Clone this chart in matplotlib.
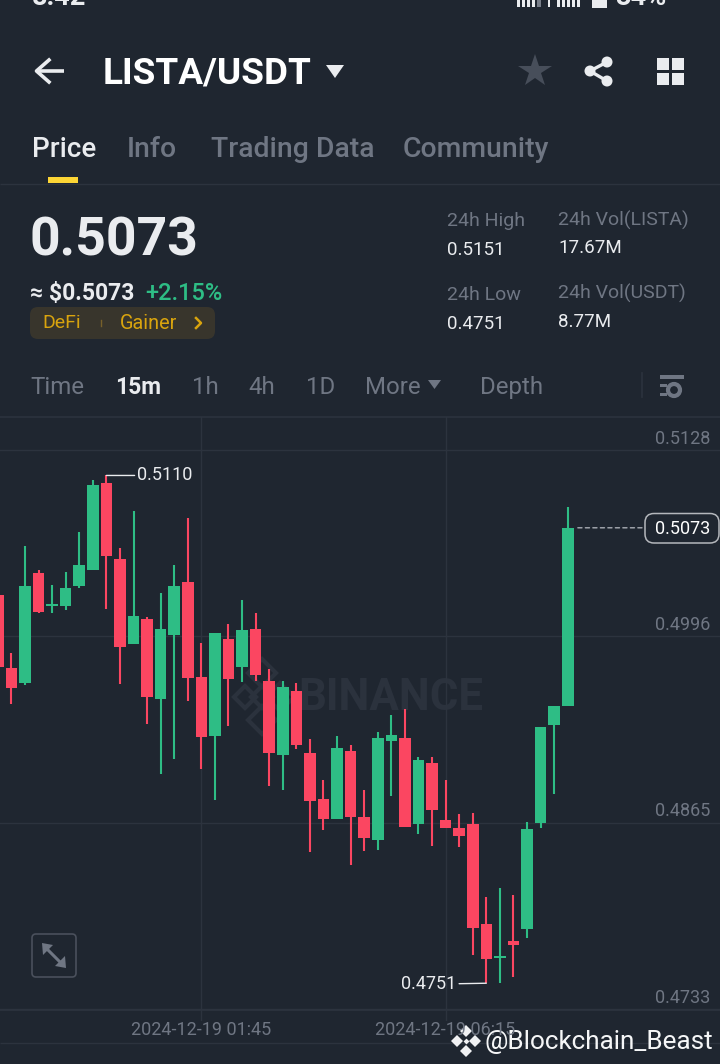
#!/usr/bin/env python3
# LISTA/USDT 15m candles, phone screenshot look.

import matplotlib
matplotlib.use("Agg")
import matplotlib.pyplot as plt
from matplotlib.patches import FancyBboxPatch, Rectangle, Polygon, Circle
import numpy as np

BG = "#1f2630"
GRID = "#2c333e"
GREEN = "#2ebd85"
RED = "#fb4661"
WHITE = "#eaecef"
GRAY = "#6f7683"
GOLD = "#d9a40e"

plt.rcParams["font.family"] = ["Roboto", "DejaVu Sans"]

# ─── candle values ────────────────────────────────────────────────────────────

opens = [0.50257, 0.49737, 0.49635, 0.50408, 0.50179, 0.50179, 0.50318, 0.50429, 0.51049,
         0.50507, 0.49908, 0.50087, 0.49517, 0.49970, 0.50349, 0.49675, 0.49258, 0.49946,
         0.49746, 0.50017, 0.49645, 0.49126, 0.49576, 0.49136, 0.48813, 0.48673, 0.49154,
         0.48683, 0.48525, 0.49225, 0.49246, 0.48634, 0.49065, 0.48664, 0.48605, 0.48634,
         0.47931, 0.47691, 0.47811, 0.47893, 0.48643, 0.49336, 0.49468]
closes = [0.49748, 0.49597, 0.50318, 0.50137, 0.50189, 0.50306, 0.50467, 0.51030, 0.50531,
          0.49889, 0.50106, 0.49536, 0.50017, 0.50318, 0.49666, 0.49249, 0.49986, 0.49659,
          0.50007, 0.49689, 0.49136, 0.49604, 0.49196, 0.48796, 0.48673, 0.49175, 0.48685,
          0.48535, 0.49244, 0.49265, 0.48615, 0.49086, 0.48735, 0.48605, 0.48553, 0.47903,
          0.47683, 0.47705, 0.47782, 0.48603, 0.49324, 0.49468, 0.50730]
highs = [0.50304, 0.49845, 0.50599, 0.50429, 0.50328, 0.50417, 0.50698, 0.51070, 0.51100,
         0.50589, 0.50849, 0.50097, 0.50267, 0.50467, 0.50799, 0.49915, 0.49986, 0.50048,
         0.50219, 0.50125, 0.49734, 0.49645, 0.49635, 0.49235, 0.48945, 0.49256, 0.49194,
         0.48874, 0.49284, 0.49404, 0.49447, 0.49107, 0.49107, 0.48945, 0.48704, 0.48714,
         0.48122, 0.48181, 0.48132, 0.48652, 0.49324, 0.49468, 0.50879]
lows = [0.49477, 0.49486, 0.49616, 0.50130, 0.50130, 0.50149, 0.50306, 0.50429, 0.50158,
        0.49628, 0.49908, 0.49345, 0.48987, 0.49098, 0.49508, 0.49027, 0.48805, 0.49327,
        0.49638, 0.49649, 0.48907, 0.48876, 0.49168, 0.48436, 0.48596, 0.48673, 0.48344,
        0.48443, 0.48454, 0.48836, 0.48615, 0.48563, 0.48482, 0.48605, 0.48473, 0.47712,
        0.47510, 0.47512, 0.47552, 0.47832, 0.48605, 0.48846, 0.49468]

# grid levels are evenly spaced, the labels are rounded from them
price_ticks = [0.51280, 0.49962, 0.48645, 0.47327]
price_labels = ["0.5128", "0.4996", "0.4865", "0.4733"]
time_idx = [15, 33]
time_labels = ["2024-12-19 01:45", "2024-12-19 06:15"]
last_price = 0.5073
high_mark = (8, 0.5110, "0.5110")
low_mark = (36, 0.4751, "0.4751")

tabs = ["Price", "Info", "Trading Data", "Community"]
intervals = ["Time", "15m", "1h", "4h", "1D", "More", "Depth"]

# ─── page ─────────────────────────────────────────────────────────────────────

fig = plt.figure(figsize=(7.2, 10.64), dpi=100, facecolor=BG)
ui = fig.add_axes([0, 0, 1, 1], zorder=1)
ui.set_xlim(0, 720)
ui.set_ylim(1064, 0)
ui.axis("off")


def label(x, y, s, size=14, color=WHITE, weight="normal", ha="left", **kw):
    # roboto sits a bit high with va=center
    return ui.text(x, y + 1.5, s, fontsize=size, color=color, weight=weight, ha=ha, va="center", **kw)


def hline(y, x0=0, x1=720, color=GRID, lw=1.0):
    ui.plot([x0, x1], [y, y], color=color, lw=lw, solid_capstyle="butt")


# status bar, cut off by the top edge
label(32, -4, "8:42", 19.5, WHITE, "bold")
for x0, w in [(517, 3), (522, 3), (527, 3), (532, 3), (537, 4), (548, 2), (557, 3), (562, 3), (567, 3), (572, 3), (577, 3)]:
    ui.add_patch(Rectangle((x0, 0), w, 7, color=WHITE if x0 != 537 else "#777d88", lw=0))
ui.add_patch(Rectangle((592, 0), 15, 8, color=WHITE, lw=0))
label(615, -4, "34%", 19.5, WHITE, "bold")

# header
ui.plot([36, 64], [71, 71], color=WHITE, lw=2.6, solid_capstyle="butt")
ui.plot([49, 36.5, 49], [60, 71, 82], color=WHITE, lw=2.6)
label(103, 72, "LISTA/USDT", 26.6, "#ffffff", "bold")
ui.add_patch(Polygon([(326, 65), (344, 65), (335, 78)], closed=True, color=WHITE, lw=0))
ui.plot([535], [71], marker="*", ms=25, color="#474e5a", mew=0)
ui.plot([607, 590, 607], [62, 71, 81], color=WHITE, lw=2.4)
for cx, cy in [(607, 62), (590, 71), (607, 81)]:
    ui.add_patch(Circle((cx, cy), 5.5, color=WHITE, lw=0))
for x0 in (657, 672):
    for y0 in (58, 73):
        ui.add_patch(Rectangle((x0, y0), 11.5, 11.5, color=WHITE, lw=0))

# tabs
for x, s in zip([32, 127, 211, 403], tabs):
    label(x, 148, s, 20 if s == "Price" else 20.4, WHITE if s == "Price" else GRAY, "medium")
ui.add_patch(Rectangle((48, 177), 30, 6, color="#fcd535", lw=0))
hline(183.5)

# price block
label(30, 240, "0.5073", 38.5, WHITE, "bold")
label(30, 292, "≈ $0.5073", 16.5, WHITE, "bold")
label(145, 292, "+2.15%", 17, GREEN, "medium")
ui.add_patch(FancyBboxPatch((30, 307), 185, 32, boxstyle="round,pad=0,rounding_size=8",
                            fc="#38352c", ec="none", lw=0))
label(42, 322, "DeFi", 14, GOLD)
label(120, 322, "Gainer", 14.3, GOLD)
ui.plot([100.5, 100.5], [320, 326], color="#77602a", lw=1)
ui.plot([196, 201, 196], [318, 323, 328], color=GOLD, lw=1.8)

# 24h stats
label(447, 219.5, "24h High", 14, GRAY)
label(447, 248.5, "0.5151", 13.5, WHITE)
label(447, 293.5, "24h Low", 14, GRAY)
label(447, 322.5, "0.4751", 13.5, WHITE)
label(558, 218.5, "24h Vol(LISTA)", 14, GRAY)
label(558, 246.5, "17.67M", 13.5, WHITE)
label(558, 291.5, "24h Vol(USDT)", 14, GRAY)
label(558, 320.5, "8.77M", 13.5, WHITE)

# interval row
for x, s in zip([30, 115, 192, 248, 306, 365, 480], intervals):
    on = s == "15m"
    label(x, 386, s, 16.5 if on else 17.3, WHITE if on else GRAY, "bold" if on else "normal")
ui.add_patch(Polygon([(428, 380), (441, 380), (434.5, 389)], closed=True, color=GRAY, lw=0))
ui.plot([642, 642], [373, 397], color=GRID, lw=1.2)
ui.add_patch(Rectangle((660, 375), 24, 4, color=GRAY, lw=0))
ui.add_patch(Rectangle((660, 384), 7, 3, color=GRAY, lw=0))
ui.add_patch(Rectangle((660, 393), 7, 3, color=GRAY, lw=0))
ui.add_patch(Circle((674, 390), 6, fc=BG, ec=GRAY, lw=3))
hline(416.5, lw=1.2)

# chart frame lines
hline(1009.5, lw=1.3)
hline(1042.5, lw=1.0)

# watermark sits under the candles
for cx, cy, s in [(262, 673, 14), (245, 697, 11), (262, 697, 11), (262, 720, 14), (280, 697, 14)]:
    ui.plot([cx], [cy], marker="D", ms=s, mfc="none", mec="#2b323d", mew=3)
label(298, 696, "BINANCE", 31.5, "#2b323d", "bold")

# expand button
ui.add_patch(FancyBboxPatch((32, 934), 44, 43, boxstyle="round,pad=0,rounding_size=4",
                            fc="none", ec="#4a505c", lw=1.2))
ui.plot([46, 62], [948, 964], color=GRAY, lw=2.2)
ui.add_patch(Polygon([(42, 943), (53, 945), (43, 955)], closed=True, color=GRAY, lw=0))
ui.add_patch(Polygon([(66, 968), (55, 966), (65, 956)], closed=True, color=GRAY, lw=0))

# reposter tag over the date axis
for cx, cy, s in [(466, 1031, 6), (457, 1041, 6), (466, 1041, 3), (475, 1041, 6), (466, 1051, 6)]:
    ui.plot([cx], [cy], marker="D", ms=s, color="#f0f1f3", mew=0)
label(484, 1040, "@Blockchain_Beast", 18.8, "#f5f6f7", zorder=6)

# ─── candles ──────────────────────────────────────────────────────────────────

opens, closes, highs, lows = map(np.array, (opens, closes, highs, lows))
idx = np.arange(len(opens))
colors = np.where(closes >= opens, GREEN, RED)

top_px, bottom_px = 417, 1021
step_px = 13.57
px_per_price = 14144.0

ax = fig.add_axes([0, 1 - bottom_px / 1064, 1, (bottom_px - top_px) / 1064], zorder=2)
ax.patch.set_alpha(0)
for side in ax.spines.values():
    side.set_visible(False)
ax.set_xlim(0.162, 0.162 + 720 / step_px)
ax.set_ylim(0.5128 - (bottom_px - 450) / px_per_price, 0.5128 + (450 - top_px) / px_per_price)
ax.set_xticks([])
ax.set_yticks([])

for p, s in zip(price_ticks, price_labels):
    ax.axhline(p, color=GRID, lw=1.0, zorder=1)
    ax.annotate(s, xy=(0.986, p), xycoords=("axes fraction", "data"), xytext=(0, 11.5),
                textcoords="offset pixels", ha="right", va="center", color=GRAY, fontsize=13)
for i, s in zip(time_idx, time_labels):
    ax.axvline(i, color=GRID, lw=1.0, zorder=1)
    ax.annotate(s, xy=(i, 0), xycoords=("data", "axes fraction"), xytext=(0, -9),
                textcoords="offset pixels", ha="center", va="center", color=GRAY, fontsize=13,
                annotation_clip=False)

ax.vlines(idx, lows, highs, colors=colors, lw=1.5, zorder=3)
ax.bar(idx, np.maximum(np.abs(closes - opens), 0.00012), bottom=np.minimum(opens, closes),
       width=0.85, color=colors, lw=0, zorder=4)

# high / low callouts
ax.annotate(high_mark[2], xy=high_mark[:2], xytext=(31, 0), textcoords="offset pixels",
            ha="left", va="center", color=WHITE, fontsize=13,
            arrowprops=dict(arrowstyle="-", color=WHITE, lw=1.0, shrinkA=0, shrinkB=0))
ax.annotate(low_mark[2], xy=low_mark[:2], xytext=(-30, -1), textcoords="offset pixels",
            ha="right", va="center", color=WHITE, fontsize=13,
            arrowprops=dict(arrowstyle="-", color=WHITE, lw=1.0, shrinkA=0, shrinkB=0))

# last price tag
ax.annotate("", xy=(42.5, last_price), xytext=(642 / 720, last_price),
            xycoords="data", textcoords=("axes fraction", "data"),
            arrowprops=dict(arrowstyle="-", color="#a9adb4", lw=1.0, ls=(0, (3, 2.4)), shrinkA=0, shrinkB=0))
ax.annotate(f"{last_price:.4f}", xy=(683 / 720, last_price), xycoords=("axes fraction", "data"),
            xytext=(0, -1.5), textcoords="offset pixels",
            ha="center", va="center", color="#ffffff", fontsize=13, zorder=6)
ui.add_patch(FancyBboxPatch((645, 513.5), 74, 29.5, boxstyle="round,pad=0,rounding_size=9",
                            fc=BG, ec="#b4b7bc", lw=1.1))

fig.savefig("out.png", dpi=100, facecolor=BG)
